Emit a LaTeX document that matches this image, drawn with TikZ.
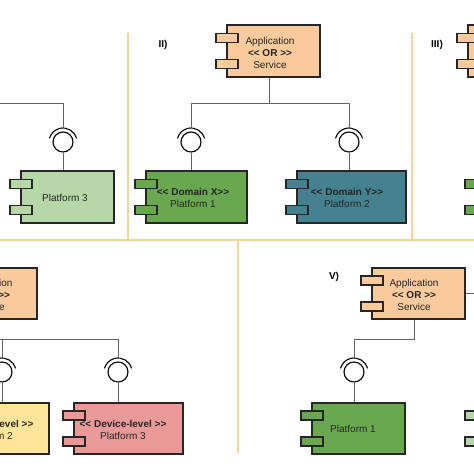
\documentclass[tikz,border=0pt]{standalone}
\usepackage{fontspec}
\setmainfont{Liberation Sans}
\definecolor{sepc}{HTML}{F2D49C}
\definecolor{peach}{HTML}{F9CB9C}
\definecolor{lgreen}{HTML}{B6D7A8}
\definecolor{mgreen}{HTML}{6AA84F}
\definecolor{teal}{HTML}{45818E}
\definecolor{lyellow}{HTML}{FFE599}
\definecolor{pink}{HTML}{EA9999}
\tikzset{
  sep/.style={draw=sepc, line width=1.4pt},
  box/.style={draw=black!85, line width=1.1pt, inner sep=0pt},
  port/.style={box, minimum width=22, minimum height=9},
  conn/.style={draw=black!62, line width=0.9pt},
  ball/.style={circle, draw=black, line width=1.1pt, fill=white, minimum size=20, inner sep=0pt},
  sock/.style={draw=black, line width=1.1pt},
  txt/.style={align=center, font=\fontsize{10}{12}\selectfont, inner sep=0pt, text=black!85},
  lbl/.style={font=\bfseries\fontsize{10}{12}\selectfont, inner sep=0pt},
}
% name, x1, y1, x2, y2 (image coords, y down), colour
\newcommand\umlcomp[6]{%
  \node[box, fill=#6, minimum width={(#4)-(#2)}, minimum height={(#5)-(#3)}] (#1)
    at ({((#2)+(#4))/2},{-((#3)+(#5))/2}) {};
  \node[port, fill=#6] (#1-pa) at (#2,{-((#3)+(#5))/2+13}) {};
  \node[port, fill=#6] (#1-pb) at (#2,{-((#3)+(#5))/2-13}) {};
}
% name, x, y (ball centre, image coords)
\newcommand\umliface[3]{%
  \node[ball] (#1) at (#2,-#3) {};
  \draw[sock] ([shift={(15:14)}]#1.center) arc (15:165:14);
  \coordinate (#1-top) at (#2,{-(#3)+14});
}
\begin{document}
\begin{tikzpicture}[x=1pt,y=1pt]
\useasboundingbox (0,0) rectangle (474,-474);
\clip (0,0) rectangle (474,-474);
\fill[white] (0,0) rectangle (474,-474);

% separators
\draw[sep] (128,-33) -- (128,-239);
\draw[sep] (412,-33) -- (412,-239);
\draw[sep, line width=1.8pt] (0,-240) -- (474,-240);
\draw[sep] (238,-241) -- (238,-453);

% ---------- panel I ----------
\umlcomp{c13}{21}{171}{114}{223}{lgreen}
\node[txt] (t13) at (65,-198) {Platform 3};
\umliface{b13}{63}{142}
\coordinate (j1) at (-10,-103);
\draw[conn] (j1) -| (b13-top);
\draw[conn] (b13.south) -- (b13.south |- c13.north);

% ---------- panel II ----------
\node[lbl] (l2) at (163,-45) {II)};
\umlcomp{a2}{227}{25}{320}{77}{peach}
\node[txt] (ta2) at (270,-53) {Application\\\textbf{<{}< OR >{}>}\\Service};
\umlcomp{c21}{146}{171}{247}{223}{mgreen}
\node[txt] (t21) at (193,-197.5) {\textbf{<{}< Domain X>{}>}\\Platform 1};
\umlcomp{c22}{297}{171}{406}{223}{teal}
\node[txt] (t22) at (347,-197.5) {\textbf{<{}< Domain Y>{}>}\\Platform 2};
\umliface{b21}{191}{142}
\umliface{b22}{349}{142}
\coordinate (j2) at (269,-103);
\draw[conn] (j2 |- a2.south) -- (j2) -| (b21-top);
\draw[conn] (j2) -| (b22-top);
\draw[conn] (b21.south) -- (b21.south |- c21.north);
\draw[conn] (b22.south) -- (b22.south |- c22.north);

% ---------- panel III ----------
\node[lbl] (l3) at (437,-45) {III)};
\umlcomp{a3}{468}{25}{561}{77}{peach}
\umlcomp{c31}{476}{171}{580}{223}{mgreen}

% ---------- panel IV ----------
\umlcomp{a4}{-56}{268}{37}{319}{peach}
\node[txt] (ta4) at (-12,-295) {Application\\\textbf{<{}< OR >{}>}\\Service};
\umlcomp{c42}{-60}{403}{49}{454}{lyellow}
\node[txt] (t42) at (-10,-429.5) {\textbf{<{}< Device-level >{}>}\\Platform 2};
\umlcomp{c43}{74}{403}{183}{454}{pink}
\node[txt] (t43) at (123,-429.5) {\textbf{<{}< Device-level >{}>}\\Platform 3};
\umliface{b42}{2}{372}
\umliface{b43}{118}{372}
\coordinate (j4) at (-12,-339);
\draw[conn] (j4 |- a4.south) -- (j4) -| (b43-top);
\draw[conn] (j4) -| (b42-top);
\draw[conn] (b42.south) -- (b42.south |- c42.north);
\draw[conn] (b43.south) -- (b43.south |- c43.north);

% ---------- panel V ----------
\node[lbl] (l5) at (334,-277) {V)};
\umlcomp{a5}{372}{268}{465}{319}{peach}
\node[txt] (ta5) at (414,-295) {Application\\\textbf{<{}< OR >{}>}\\Service};
\umlcomp{c51}{312}{403}{405}{454}{mgreen}
\node[txt] (t51) at (353,-429) {Platform 1};
\umlcomp{c52}{476}{403}{580}{454}{lgreen}
\umliface{b51}{354}{372}
\coordinate (j5) at (414,-339);
\coordinate (e5) at (480,-293.5);
\draw[conn] (j5 |- a5.south) -- (j5) -| (b51-top);
\draw[conn] (a5.east) -- (e5);
\draw[conn] (b51.south) -- (b51.south |- c51.north);
\end{tikzpicture}
\end{document}
